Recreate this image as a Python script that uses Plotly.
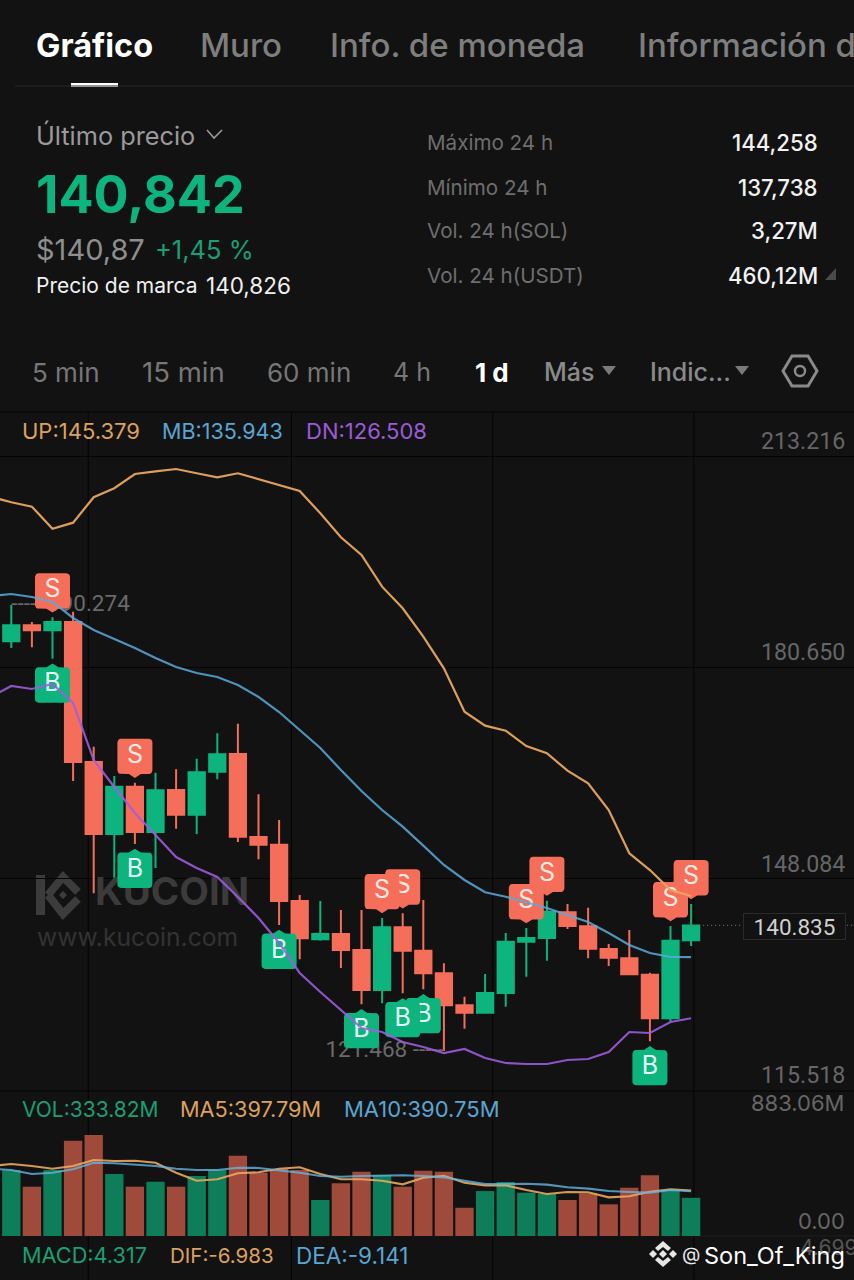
import numpy as np
import plotly.graph_objects as go

# ---------- data ----------
opens  = [184.69,187.16,186.39,187.67,166.06,154.95,162.25,155.26,161.74,157.93,164.57,167.30,154.49,153.30,144.61,138.70,139.52,137.05,130.87,140.55,136.94,133.45,128.51,127.37,130.41,138.33,138.90,142.87,140.71,137.20,135.77,133.24,126.51,138.54]
highs  = [190.274,187.67,188.40,189.26,168.43,163.90,162.87,164.41,164.94,166.57,170.49,171.97,161.08,157.11,145.54,144.61,143.22,143.22,141.99,142.71,144.76,134.99,129.84,133.34,139.67,140.44,144.66,144.15,143.58,137.97,140.13,133.54,140.75,144.15]
lows   = [183.66,183.77,182.01,163.13,145.80,147.85,153.41,149.70,155.77,154.95,163.39,153.72,151.05,140.91,135.61,138.48,134.27,128.67,128.82,130.36,130.98,121.468,124.90,127.32,128.30,132.93,135.40,140.29,135.77,134.58,133.19,122.96,125.98,137.67]
closes = [187.16,186.39,187.67,166.06,154.95,162.25,155.26,161.70,157.93,164.47,167.25,154.53,153.30,144.61,138.85,139.52,137.05,130.87,140.55,136.94,133.45,128.51,127.37,130.41,138.33,138.90,142.96,140.75,137.25,135.86,133.30,126.51,138.48,140.835]

# Bollinger bands start one candle before the first visible candle
band_x = list(range(-1, 34))
boll_up = [207.0,206.15,205.47,202.07,203.00,206.92,208.31,210.51,210.93,211.28,210.62,210.00,210.62,209.70,208.77,207.89,204.45,200.74,198.01,193.12,189.79,185.40,180.52,173.83,171.67,170.89,168.53,167.41,164.72,162.78,158.65,151.97,149.39,146.31,145.379]
boll_mb = [191.68,191.99,191.53,190.76,188.29,186.44,185.05,183.66,182.11,180.73,179.80,179.18,177.95,176.10,173.78,171.00,168.22,164.83,161.59,158.65,156.08,153.15,150.17,147.85,145.95,145.27,144.46,143.53,142.45,141.37,139.67,137.82,136.58,135.97,135.943]
boll_dn = [176.10,177.79,177.33,178.10,175.17,166.37,162.20,158.19,154.80,151.40,149.70,148.31,145.23,141.99,138.13,133.50,130.56,127.79,125.01,124.39,122.85,122.08,121.15,121.77,120.38,119.61,119.45,119.45,120.07,120.22,121.30,124.39,124.24,125.93,126.508]

volume = [577,431,577,833,883.06,542,431,475,431,525,577,702,553,586,577,315,461,562,533,431,571,562,247,393,472,379,367,315,373,277,422,531,402,333.82]
vol_ma5 = [612,629.5,612,588,612,664,656,658,641,553,483,496,548,557,588,601,542,496,496,483,452,510,527,466,443,443,402,367,385,382,338,347,387,408,397.79]
vol_ma10 = [588,577,542,553,583,641,636,623,612,588,577,577,597,595,577,553,525,518,525,531,531,525,513,483,455,455,457,449,426,414,393,385,379,402,390.75]

sell_signals = [2,6,18,19,25,26,32,33]
buy_signals = [2,6,13,17,19,20,31]

price_ticks = [213.216,180.650,148.084,115.518]
price_tick_labels = ["213.216","180.650","148.084","115.518"]
time_grid = [3.74,13.60,23.37,33.13]

tabs = ["Gráfico","Muro","Info. de moneda","Información d"]
stat_names = ["Máximo 24 h","Mínimo 24 h","Vol. 24 h(SOL)","Vol. 24 h(USDT)"]
stat_values = ["144,258","137,738","3,27M","460,12M"]

# ---------- style ----------
W, H = 854, 1280
BG = "#121212"
GRID = "#050505"
GREEN = "#0DB47D"
RED = "#F56E5A"
VGREEN = "#0D7D5A"
VRED = "#A04A3C"
ORANGE = "#DDA15E"
BLUE = "#5AA5D2"
PURPLE = "#9A5CD6"
FONT = "Inter, Liberation Sans, sans-serif"
NUMFONT = "Roboto, Liberation Sans, sans-serif"

XMIN, XMAX = -0.5485, 40.907
YMIN, YMAX = 115.44, 220.08
PX_X = (XMAX - XMIN) / W
PX_Y = (YMAX - YMIN) / 678.0

fig = go.Figure()

ann = []
shapes = []


def px_x(p):
    return p / W


def px_y(p):
    return 1 - p / H


def label(text, x, y, size, color, anchor="left", weight=400, family=FONT):
    ann.append(dict(text=text, x=px_x(x), y=px_y(y), xref="paper", yref="paper",
                    xanchor=anchor, yanchor="middle", showarrow=False,
                    borderwidth=0, borderpad=0,
                    font=dict(family=family, size=size, color=color, weight=weight)))


def path(d, fill=None, line=None, width=0, layer="above"):
    s = dict(type="path", path=d, xref="paper", yref="paper", layer=layer,
             line=dict(width=width, color=line or "rgba(0,0,0,0)"))
    if fill:
        s["fillcolor"] = fill
    shapes.append(s)


def pts(points, close=True):
    out = []
    for k, (a, b) in enumerate(points):
        out.append(("M" if k == 0 else "L") + f"{px_x(a):.5f},{px_y(b):.5f}")
    return " ".join(out) + (" Z" if close else "")


def hline(y, x0=0, x1=W, color=GRID, width=1, layer="below"):
    path(pts([(x0, y), (x1, y)], False), line=color, width=width, layer=layer)


# ---------- candles ----------
fig.add_trace(go.Candlestick(
    x=list(range(len(opens))), open=opens, high=highs, low=lows, close=closes,
    increasing=dict(line=dict(color=GREEN, width=2), fillcolor=GREEN),
    decreasing=dict(line=dict(color=RED, width=2), fillcolor=RED),
    whiskerwidth=0, showlegend=False, hoverinfo="skip"))

# ---------- watermark and high / low labels (under the badges) ----------
fig.add_trace(go.Scatter(
    x=[95 * PX_X + XMIN, 37 * PX_X + XMIN],
    y=[YMAX - (895 - 412) * PX_Y, YMAX - (940 - 412) * PX_Y],
    mode="text", text=["<b>KUCOIN</b>", "www.kucoin.com"], textposition="middle right",
    textfont=dict(family=FONT, size=[38.5, 24.7], color=["#3B3B3B", "#333333"]),
    showlegend=False, hoverinfo="skip"))
fig.add_trace(go.Scatter(
    x=[0, 21], y=[highs[0], lows[21]], mode="text",
    text=["----- 190.274", "121.468 -----"], textposition=["middle right", "middle left"],
    textfont=dict(family=NUMFONT, size=22.5, color="#6A6A6A"),
    showlegend=False, hoverinfo="skip"))


# ---------- S / B badges ----------
def badge_polygon(i, anchor, sign):
    """Rounded tag with a small peak facing the candle; sign -1 above, +1 below."""
    hw, near, far, r = 17.5, 8.6, 44.0, 3.5
    top, bottom = (near, far) if sign > 0 else (-far, -near)
    pxs, pys = [], []
    for cx, cy, a0 in [(hw - r, bottom - r, 0), (-hw + r, bottom - r, 90),
                       (-hw + r, top + r, 180), (hw - r, top + r, 270)]:
        for t in np.linspace(a0, a0 + 90, 5):
            pxs.append(cx + r * np.cos(np.radians(t)))
            pys.append(cy + r * np.sin(np.radians(t)))
    # insert a peak on the edge facing the candle
    edge = top if sign > 0 else bottom
    peak = [(-6.0, edge), (0.0, edge + sign * -3.8), (6.0, edge)]
    at = 15 if sign > 0 else 5
    seq = peak if sign > 0 else peak[::-1]
    pxs = pxs[:at] + [p[0] for p in seq] + pxs[at:]
    pys = pys[:at] + [p[1] for p in seq] + pys[at:]
    xs = [i + a * PX_X for a in pxs] + [i + pxs[0] * PX_X]
    ys = [anchor - b * PX_Y for b in pys] + [anchor - pys[0] * PX_Y]
    cy = anchor - (top + bottom) / 2 * PX_Y
    return xs, ys, cy


def add_badge(i, anchor, sign, letter, color, ink):
    xs, ys, cy = badge_polygon(i, anchor, sign)
    fig.add_trace(go.Scatter(x=xs, y=ys, mode="lines", fill="toself", fillcolor=color,
                             line=dict(width=0, color=color), showlegend=False, hoverinfo="skip"))
    fig.add_trace(go.Scatter(x=[i], y=[cy], mode="text", text=[letter], textposition="middle center",
                             textfont=dict(family=FONT, size=25, color=ink),
                             showlegend=False, hoverinfo="skip"))


for i in sorted(sell_signals, reverse=True):
    add_badge(i, highs[i], -1, "S", RED, "#FFE9E4")
for i in sorted(buy_signals, reverse=True):
    add_badge(i, lows[i], 1, "B", GREEN, "#E6FFF6")

# ---------- bands ----------
for vals, col in [(boll_up, "rgba(232,168,96,0.95)"), (boll_mb, "rgba(90,170,220,0.85)"), (boll_dn, "rgba(160,92,225,0.88)")]:
    fig.add_trace(go.Scatter(x=band_x, y=vals, mode="lines", line=dict(color=col, width=2.2),
                             showlegend=False, hoverinfo="skip"))

# latest price dotted line
fig.add_trace(go.Scatter(x=[33, XMAX], y=[closes[-1], closes[-1]], mode="lines",
                         line=dict(color="#6A6A6A", width=1.2, dash="1px,3px"),
                         showlegend=False, hoverinfo="skip"))

# ---------- volume ----------
bar_colors = [VGREEN if c >= o else VRED for o, c in zip(opens, closes)]
fig.add_trace(go.Bar(x=list(range(len(volume))), y=volume, yaxis="y2", width=0.89,
                     marker=dict(color=bar_colors, line=dict(width=0)),
                     showlegend=False, hoverinfo="skip"))
for vals, col in [(vol_ma5, "rgba(232,168,96,0.9)"), (vol_ma10, "rgba(100,180,225,0.8)")]:
    fig.add_trace(go.Scatter(x=band_x, y=vals, yaxis="y2", mode="lines",
                             line=dict(color=col, width=2.1),
                             showlegend=False, hoverinfo="skip"))

# ---------- page chrome ----------
tab_x = [36, 200, 330, 638]
for k, (t, x) in enumerate(zip(tabs, tab_x)):
    label(t, x, 45, 33 if k else 32.5, "#FFFFFF" if k == 0 else "#7E7E7E", weight=700 if k == 0 else 500)
path(pts([(71, 83), (118, 83), (118, 87), (71, 87)]), fill="#FFFFFF")
hline(86, 15, W, "#262626", 1, "above")

label("Último precio", 36, 135, 25.3, "#9A9A9A")
path(pts([(207, 130), (214, 138), (222, 130)], False), line="#9A9A9A", width=1.6)
label("140,842", 36, 194, 52, GREEN, weight=700)
label("$140,87", 36, 249, 29, "#8E8E8E")
label("+1,45 %", 155, 249, 25.5, "#1B9E72")
label("Precio de marca", 36, 286, 21, "#F0F0F0")
label("140,826", 206, 286, 22.5, "#F0F0F0")

for k, (n, v) in enumerate(zip(stat_names, stat_values)):
    y = 143 + 44 * k
    label(n, 427, y, 20.6, "#6E6E6E")
    label(v, 818, y, 22.2, "#F2F2F2", anchor="right", weight=500)
path(pts([(836, 268), (836, 280), (825, 280)]), fill="#4A4A4A")

for t, x, col, wgt, sz in [("5 min", 32, "#777777", 400, 26), ("15 min", 142, "#777777", 400, 27.5),
                           ("60 min", 267, "#777777", 400, 26), ("4 h", 393, "#777777", 400, 25),
                           ("1 d", 475, "#FFFFFF", 700, 26), ("Más", 544, "#8A8A8A", 500, 25),
                           ("Indic...", 650, "#8A8A8A", 500, 25)]:
    label(t, x, 372, sz, col, weight=wgt)
path(pts([(602, 366), (616, 366), (609, 375)]), fill="#7A7A7A")
path(pts([(735, 366), (749, 366), (742, 375)]), fill="#7A7A7A")
path(pts([(783, 371), (792, 356), (808, 356), (817, 371), (808, 386), (792, 386)]), line="#8A8A8A", width=3)
shapes.append(dict(type="circle", xref="paper", yref="paper", x0=px_x(795), x1=px_x(805),
                   y0=px_y(376), y1=px_y(366), line=dict(color="#8A8A8A", width=2.5)))

# pane legends
label("UP:145.379", 22, 431, 22, ORANGE)
label("MB:135.943", 162, 431, 21.5, BLUE)
label("DN:126.508", 306, 431, 22, PURPLE)
label("VOL:333.82M", 22, 1109, 21, "#1B9E72")
label("MA5:397.79M", 180, 1109, 21.7, ORANGE)
label("MA10:390.75M", 344, 1109, 22, BLUE)
label("MACD:4.317", 22, 1255, 21.7, "#1B9E72")
label("DIF:-6.983", 170, 1255, 20.5, ORANGE)
label("DEA:-9.141", 296, 1255, 22.5, BLUE)

# right axis
for t, y in zip(price_tick_labels, [441, 652, 864, 1075]):
    label(t, 845, y, 23.2, "#666666", anchor="right", family=NUMFONT)
label("883.06M", 845, 1103, 22, "#666666", anchor="right")
label("0.00", 845, 1221, 22, "#666666", anchor="right")
label("4.699", 857, 1247, 21, "#555555", anchor="right")

# latest price box
ann.append(dict(text="140.835", x=px_x(794), y=px_y(926), xref="paper", yref="paper",
                xanchor="center", yanchor="middle", showarrow=False, width=101, height=25,
                bgcolor=BG, bordercolor="#2A2A2A", borderwidth=1, borderpad=0,
                font=dict(family=NUMFONT, size=22.5, color="#D0D0D0")))

# horizontal pane rules
hline(412, color=GRID)
hline(1091, color=GRID)
hline(1236, 700, W, "#202020")

# vertical time grid across all panes
for g in time_grid:
    shapes.append(dict(type="line", xref="x", yref="paper", x0=g, x1=g, y0=0, y1=px_y(412),
                       layer="below", line=dict(color=GRID, width=1)))

# KuCoin logo
LOGO = "#3C3C3C"
path(pts([(36, 875), (45, 875), (45, 915), (36, 915)]), fill=LOGO, layer="below")
path(pts([(48, 895), (63, 877), (78, 892)], False), line=LOGO, width=8, layer="below")
path(pts([(48, 895), (63, 914), (78, 899)], False), line=LOGO, width=8, layer="below")
path(pts([(63, 891), (67, 895), (63, 899), (59, 895)]), fill=LOGO, layer="below")

# Binance watermark
label("@", 682, 1254, 19, "#E8E8E8")
label("Son_Of_King", 845, 1255, 23.5, "#FFFFFF", anchor="right")
W_ = "#E6E6E6"
path(pts([(653, 1250), (657, 1254), (653, 1258), (649, 1254)]), fill=W_)
path(pts([(673, 1250), (677, 1254), (673, 1258), (669, 1254)]), fill=W_)
path(pts([(663, 1241), (671, 1248), (668, 1251), (663, 1247), (658, 1251), (655, 1248)]), fill=W_)
path(pts([(663, 1267), (671, 1260), (668, 1257), (663, 1261), (658, 1257), (655, 1260)]), fill=W_)
path(pts([(663, 1250), (667, 1254), (663, 1258), (659, 1254)]), fill=W_)

# ---------- layout ----------
fig.update_layout(
    width=W, height=H, margin=dict(l=0, r=0, t=0, b=0),
    paper_bgcolor=BG, plot_bgcolor=BG, showlegend=False, boxgap=0.21, boxgroupgap=0, bargap=0.11,
    xaxis=dict(range=[XMIN, XMAX], visible=False, rangeslider=dict(visible=False), fixedrange=True),
    yaxis=dict(domain=[px_y(1090), px_y(412)], range=[YMIN, YMAX], tickvals=price_ticks,
               showticklabels=False, showgrid=True, gridcolor=GRID, gridwidth=1, zeroline=False,
               ticks="", fixedrange=True),
    yaxis2=dict(domain=[px_y(1236), px_y(1090)], range=[0, 1276.5], visible=False, fixedrange=True),
    annotations=ann, shapes=shapes,
    hovermode=False, dragmode=False,
)

fig.write_html("out.html", config={"displayModeBar": False, "staticPlot": True},
               post_script="document.body.style.margin='0';document.body.style.background='#121212';")
